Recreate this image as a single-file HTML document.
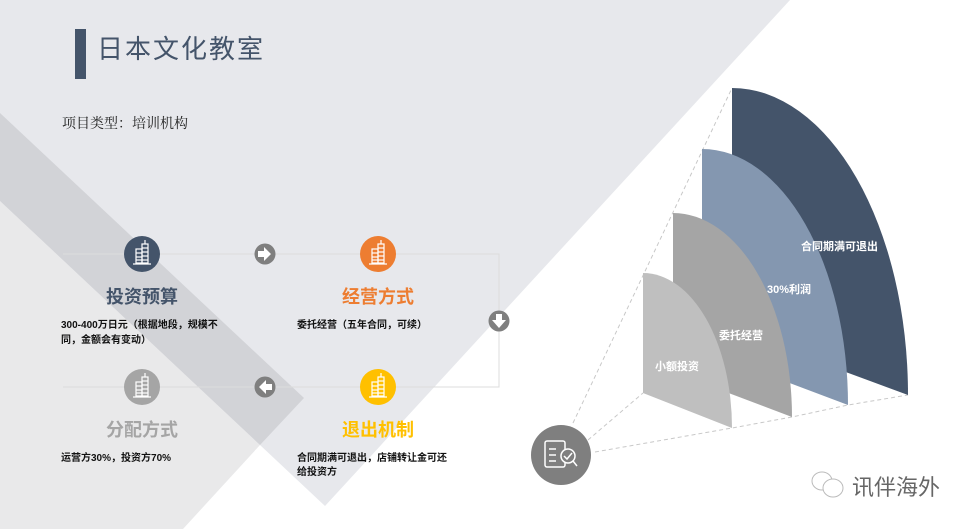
<!DOCTYPE html>
<html><head><meta charset="utf-8"><style>
html,body{margin:0;padding:0;background:#fff}
svg{display:block}
text{font-family:"Liberation Sans","Noto Sans CJK SC",sans-serif}
.serif{font-family:"Liberation Serif","Noto Serif CJK SC",serif}
</style></head><body>
<svg width="979" height="529" viewBox="0 0 979 529" xmlns="http://www.w3.org/2000/svg">
<defs>
<g id="bld" fill="none" stroke="#fff" stroke-width="1.2">
<rect x="-6" y="-7" width="6" height="14"/><rect x="0" y="-12" width="6" height="19"/>
<line x1="-9" y1="8" x2="9" y2="8"/><line x1="-6" y1="-3" x2="0" y2="-3"/><line x1="-6" y1="1" x2="0" y2="1"/><line x1="-6" y1="4" x2="0" y2="4"/>
<line x1="0" y1="-8" x2="6" y2="-8"/><line x1="0" y1="-4" x2="6" y2="-4"/><line x1="0" y1="0" x2="6" y2="0"/><line x1="0" y1="4" x2="6" y2="4"/>
<line x1="3" y1="-12" x2="3" y2="-16"/>
</g>
</defs>
<polygon points="0,0 790,0 325,506 0,201" fill="#e7e8ec"/>
<polygon points="0,201 260,445 183,529 0,529" fill="#e9e9ea"/>
<polygon points="0,113 304,398 260,445 0,201" fill="#d2d3d7"/>

<rect x="75" y="29" width="11" height="50" fill="#44546a"/>
<text x="97" y="58" font-size="26" fill="#44546a" letter-spacing="2">日本文化教室</text>
<text class="serif" x="62" y="128" font-size="14" fill="#222">项目类型：培训机构</text>

<polyline points="63,254 499,254 499,387 63,387" fill="none" stroke="#dcdcdc" stroke-width="1"/>

<circle cx="142" cy="254" r="18" fill="#44546a"/><use href="#bld" x="142" y="256"/>
<circle cx="378" cy="254" r="18" fill="#ed7d31"/><use href="#bld" x="378" y="256"/>
<circle cx="142" cy="387" r="18" fill="#a5a5a5"/><use href="#bld" x="142" y="389"/>
<circle cx="378" cy="387" r="18" fill="#ffc000"/><use href="#bld" x="378" y="389"/>

<circle cx="265" cy="254" r="10.5" fill="#7f7f7f"/>
<polygon points="258,251 264,251 264,247 271,254 264,261 264,257 258,257" fill="#fff"/>
<circle cx="265" cy="387" r="10.5" fill="#7f7f7f"/>
<polygon points="272,384 266,384 266,380 259,387 266,394 266,390 272,390" fill="#fff"/>
<circle cx="499" cy="321" r="10.5" fill="#7f7f7f"/>
<polygon points="496,314 502,314 502,320 506,320 499,328 492,320 496,320" fill="#fff"/>

<g font-size="18" font-weight="bold" text-anchor="middle">
<text x="142" y="303" fill="#44546a">投资预算</text>
<text x="378" y="303" fill="#ed7d31">经营方式</text>
<text x="142" y="436" fill="#a5a5a5">分配方式</text>
<text x="378" y="436" fill="#ffc000">退出机制</text>
</g>
<g class="serif" font-size="10" fill="#111" font-weight="bold">
<text x="61" y="328">300-400万日元（根据地段，规模不</text>
<text x="61" y="343">同，金额会有变动）</text>
<text x="297" y="328">委托经营（五年合同，可续）</text>
<text x="61" y="461">运营方30%，投资方70%</text>
<text x="297" y="461">合同期满可退出，店铺转让金可还</text>
<text x="297" y="475">给投资方</text>
</g>

<g stroke="#c8c8c8" stroke-width="1" stroke-dasharray="4,3" fill="none">
<line x1="573" y1="423" x2="732" y2="88"/>
<line x1="588" y1="440" x2="643" y2="393"/>
<polyline points="595,452 732,428 792,417 848,405 908,395"/>
</g>

<path d="M732,88 A176,307 0 0 1 908,395 L732,330 Z" fill="#44546a"/>
<path d="M702,149 A146,256 0 0 1 848,405 L702,350 Z" fill="#8497b0"/>
<path d="M673,213 A119,204 0 0 1 792,417 L673,372 Z" fill="#a5a5a5"/>
<path d="M643,273 A89,155 0 0 1 732,428 L643,393 Z" fill="#bfbfbf"/>
<g font-size="11" font-weight="bold" fill="#fff">
<text x="801" y="250">合同期满可退出</text>
<text x="767" y="293">30%利润</text>
<text x="719" y="339">委托经营</text>
<text x="655" y="370">小额投资</text>
</g>

<circle cx="561" cy="455" r="30" fill="#7f7f7f"/>
<g fill="none" stroke="#fff" stroke-width="1.5">
<rect x="545" y="441" width="20" height="26" rx="2"/>
<line x1="549" y1="449" x2="556" y2="449"/><line x1="549" y1="455" x2="556" y2="455"/><line x1="549" y1="461" x2="556" y2="461"/>
<circle cx="568" cy="456" r="7" fill="#7f7f7f"/>
<polyline points="564,456 567,459 572,453"/>
<line x1="573" y1="461" x2="577" y2="466"/>
</g>

<g fill="none" stroke="#bbb" stroke-width="1">
<ellipse cx="822" cy="481" rx="10" ry="9"/>
<ellipse cx="833" cy="488" rx="10" ry="9" fill="#fff"/>
</g>
<text x="852" y="495" font-size="22" fill="#666">讯伴海外</text>
</svg>
</body></html>
